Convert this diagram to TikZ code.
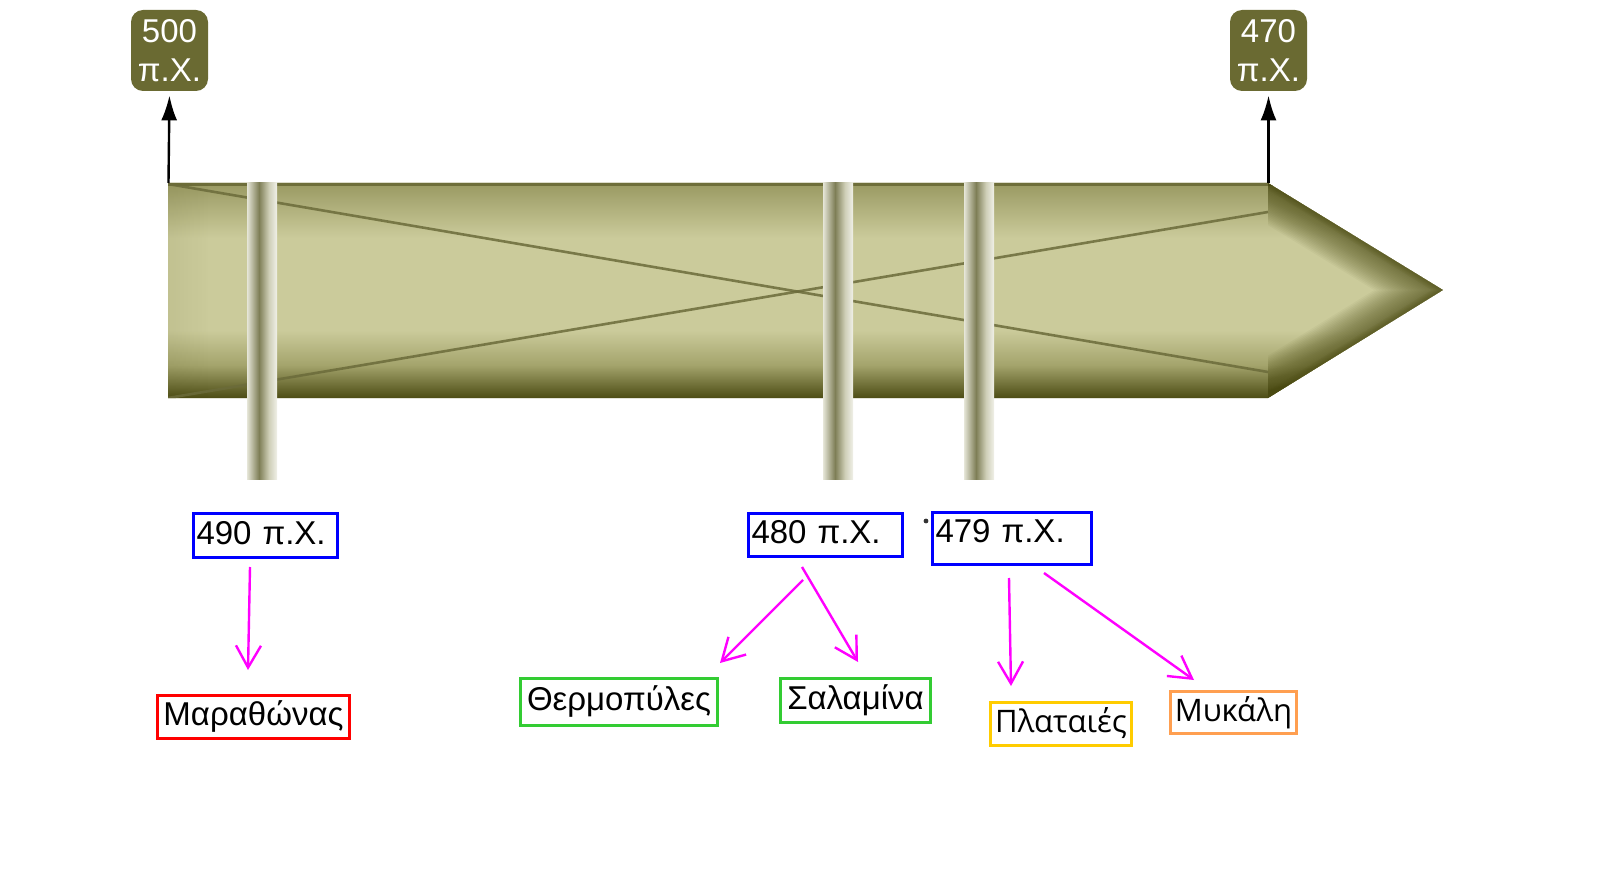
\documentclass[tikz,border=0pt]{standalone}
\usepackage{fontspec}
\setmainfont{Liberation Sans}
\newfontfamily\osans{Open Sans}
\usetikzlibrary{arrows.meta}
\definecolor{olivebox}{HTML}{6A6A32}
\definecolor{barlight}{HTML}{CBCB9B}
\definecolor{barmid}{HTML}{A4A46C}
\definecolor{bardark}{HTML}{4A4A12}
\definecolor{bartop}{HTML}{6E6E3A}
\definecolor{xline}{HTML}{6B6B3A}
\definecolor{postlight}{HTML}{E6E6D8}
\definecolor{postdark}{HTML}{7E7E56}
\definecolor{postmid}{HTML}{CFCFB8}
\definecolor{postedge}{HTML}{F0F0E8}
\definecolor{mag}{HTML}{FF00FF}
\definecolor{bgreen}{HTML}{33CC33}
\definecolor{byellow}{HTML}{FFCC00}
\definecolor{borange}{HTML}{FF9F50}
\newcommand{\fsz}{\fontsize{16.5pt}{19.5pt}\selectfont}
\newcommand{\fso}{\osans\fontsize{15.5pt}{19pt}\selectfont}
\begin{document}
\begin{tikzpicture}[x=0.5pt,y=-0.5pt]
\tikzset{
  yearbox/.style={fill=olivebox, text=white, rounded corners=6pt, align=center,
    font=\fsz, inner sep=0pt, minimum width=38.5pt, minimum height=40.5pt},
  labelbox/.style={draw=#1, line width=1.5pt, fill=white, inner ysep=0pt,
    text height=12pt, text depth=3.5pt},
  datebox/.style={labelbox=blue, font=\fsz, align=left, inner xsep=1.5pt},
  placebox/.style={labelbox=#1, font=\fsz, align=center, inner xsep=0pt},
  blackarrow/.style={-{Latex[length=12.5pt,width=8pt]}, line width=1.2pt, shorten >=2pt},
  magarrow/.style={-{Straight Barb[length=11pt,width=12.5pt]}, draw=mag, line width=1.2pt},
}
% bounding box
\useasboundingbox (0,0) rectangle (1600,882);

% ---- the timeline bar ----
\begin{scope}
  \clip (168,183) -- (1268,183) -- (1443,290) -- (1268,398) -- (168,398) -- cycle;
  \fill[barlight] (160,180) rectangle (1450,400);
  \shade[top color=barmid!80!bartop, bottom color=barlight] (160,183) rectangle (1450,238);
  \shade[top color=barlight, bottom color=barmid] (160,330) rectangle (1450,365);
  \shade[top color=barmid, bottom color=bardark] (160,365) rectangle (1450,399);
  \fill[bartop] (160,181) rectangle (1450,186);
  % dark left end
  \foreach \i in {0,...,19}{
    \fill[bardark, opacity={0.045*(20-\i)/20*1.6}] (168+2*\i,183) rectangle (170+2*\i,398);
  }
  % crossing lines
  \draw[xline, line width=1.3pt, opacity=0.85] (168,184) -- (1268,372);
  \draw[xline, line width=1.3pt, opacity=0.85] (168,398) -- (1268,212);
\end{scope}
% dark edges of the arrow head (smooth ramp)
\begin{scope}
  \clip (1268,183) -- (1443,290) -- (1268,398) -- cycle;
  \foreach \k in {1,...,24}{
    \draw[bardark, line width=\k*1.5pt, opacity=0.045, line join=miter]
      (1268,183) -- (1443,290) -- (1268,398);
  }
  \foreach \k in {1,...,6}{
    \draw[bardark, line width=\k*1pt, opacity=0.07, line join=miter]
      (1268,183) -- (1443,290) -- (1268,398);
  }
\end{scope}

% ---- posts ----
\foreach \px in {247,823,964}{
  \shade[left color=postlight, right color=postdark] (\px,183) rectangle (\px+12,479);
  \shade[left color=postdark, right color=postmid] (\px+12,183) rectangle (\px+22,479);
  \shade[left color=postmid, right color=postedge] (\px+22,183) rectangle (\px+30,479);
}

% ---- start / end labels ----
\node[yearbox] (y500) at (169.5,50.5) {500\\π.Χ.};
\node[yearbox] (y470) at (1268.5,50.5) {470\\π.Χ.};
\coordinate (barL) at (168.5,183);
\coordinate (barR) at (1268.5,183);
\draw[blackarrow] (barL) -- (y500.south);
\draw[blackarrow] (barR) -- (y470.south);

% ---- date boxes ----
\node[datebox, minimum width=72pt, minimum height=22pt, text width=69pt] (d490) at (265.5,535.5) {490 π.Χ.};
\node[datebox, minimum width=77pt, minimum height=21.5pt, text width=74pt] (d480) at (825.5,535) {480 π.Χ.};
\node[datebox, minimum width=79.5pt, minimum height=26pt, text width=76.5pt, text depth=8.5pt] (d479) at (1012,538.5) {479 π.Χ.};
\fill[black!80] (926,521) circle (1.2pt);

% ---- place boxes ----
\node[placebox=red, minimum width=96pt, minimum height=21.5pt] (mar) at (253.5,717) {Μαραθώνας};
\node[placebox=bgreen, minimum width=98.5pt, minimum height=23.5pt] (the) at (619,702) {Θερμοπύλες};
\node[placebox=bgreen, minimum width=75pt, minimum height=22pt] (sal) at (855.5,700.5) {Σαλαμίνα};
\node[placebox=byellow, font=\fso, minimum width=70.5pt, minimum height=21.5pt] (pla) at (1061,724) {Πλαταιές};
\node[placebox=borange, font=\fso, minimum width=63pt, minimum height=21pt] (myk) at (1233.5,712.5) {Μυκάλη};

% ---- magenta connectors ----
\coordinate (s490) at (250,567);   \coordinate (e490) at (248,670);
\coordinate (s480a) at (803,580);  \coordinate (e480a) at (720,663);
\coordinate (s480b) at (802,567);  \coordinate (e480b) at (858,662);
\coordinate (s479a) at (1009,578); \coordinate (e479a) at (1011,686);
\coordinate (s479b) at (1044,573); \coordinate (e479b) at (1194,680);
\draw[magarrow] (s490) -- (e490);
\draw[magarrow] (s480a) -- (e480a);
\draw[magarrow] (s480b) -- (e480b);
\draw[magarrow] (s479a) -- (e479a);
\draw[magarrow] (s479b) -- (e479b);
\end{tikzpicture}
\end{document}
